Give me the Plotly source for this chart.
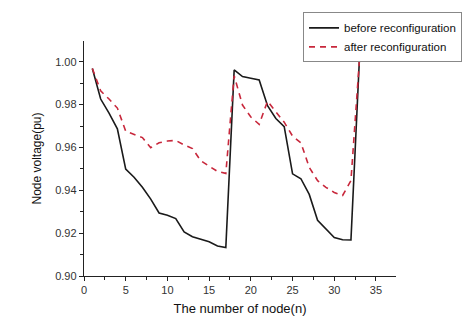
import plotly.graph_objects as go

# Node numbers of the 33-bus feeder
nodes = list(range(1, 34))

# Node voltage (pu) before reconfiguration
before_reconfig = [
    0.9969, 0.9826, 0.9760, 0.9687, 0.9499, 0.9461, 0.9414, 0.9359, 0.9294,
    0.9284, 0.9268, 0.9206, 0.9183, 0.9171, 0.9160, 0.9140, 0.9133,
    0.9962, 0.9931, 0.9923, 0.9915, 0.9795, 0.9735, 0.9697, 0.9477, 0.9454,
    0.9381, 0.9260, 0.9220, 0.9180, 0.9169, 0.9168, 1.0000,
]

# Node voltage (pu) after reconfiguration
after_reconfig = [
    0.9969, 0.9864, 0.9826, 0.9784, 0.9676, 0.9661, 0.9646, 0.9599, 0.9622,
    0.9630, 0.9633, 0.9612, 0.9595, 0.9538, 0.9515, 0.9488, 0.9479,
    0.9935, 0.9798, 0.9742, 0.9708, 0.9816, 0.9766, 0.9718, 0.9653, 0.9622,
    0.9507, 0.9445, 0.9414, 0.9390, 0.9376, 0.9445, 1.0000,
]

y_ticks = [0.90, 0.92, 0.94, 0.96, 0.98, 1.00]
x_ticks = [0, 5, 10, 15, 20, 25, 30, 35]

font_family = "Liberation Sans, Arial, sans-serif"

fig = go.Figure()
fig.add_trace(go.Scatter(
    x=nodes, y=before_reconfig, mode="lines", name="before reconfiguration",
    line=dict(color="#1a1a1a", width=1.6),
))
fig.add_trace(go.Scatter(
    x=nodes, y=after_reconfig, mode="lines", name="after reconfiguration",
    line=dict(color="#c8283c", width=1.6, dash="6px,5px"),
))

axis_common = dict(
    showgrid=False, zeroline=False, showline=True, linecolor="#222", linewidth=1.4,
    ticks="outside", ticklen=4, tickwidth=1.2, tickcolor="#222",
    tickfont=dict(family=font_family, size=11, color="#333"),
    mirror=False,
)

fig.update_xaxes(
    range=[0, 37.4], tickvals=x_ticks, ticktext=[str(v) for v in x_ticks],
    minor=dict(dtick=2.5, tick0=0, ticks="outside", ticklen=3, tickcolor="#222"),
    title=dict(text="The number of node(n)", font=dict(family=font_family, size=13, color="#111"),
               standoff=8),
    **axis_common,
)
fig.update_yaxes(
    range=[0.90, 1.0097], tickvals=y_ticks, ticktext=[f"{v:.2f}" for v in y_ticks],
    minor=dict(dtick=0.01, tick0=0.90, ticks="outside", ticklen=3, tickcolor="#222"),
    title=dict(text="Node voltage(pu)", font=dict(family=font_family, size=12, color="#111"),
               standoff=10),
    **axis_common,
)

fig.update_layout(
    width=474, height=331,
    margin=dict(l=84, r=67, t=39, b=55),
    paper_bgcolor="white", plot_bgcolor="white",
    legend=dict(
        x=0.702, y=1.122, xanchor="left", yanchor="top",
        bordercolor="#888", borderwidth=1, bgcolor="white",
        font=dict(family=font_family, size=11.5, color="#111"),
        tracegroupgap=0, itemwidth=30,
    ),
    showlegend=True,
)

fig.write_html("out.html")
